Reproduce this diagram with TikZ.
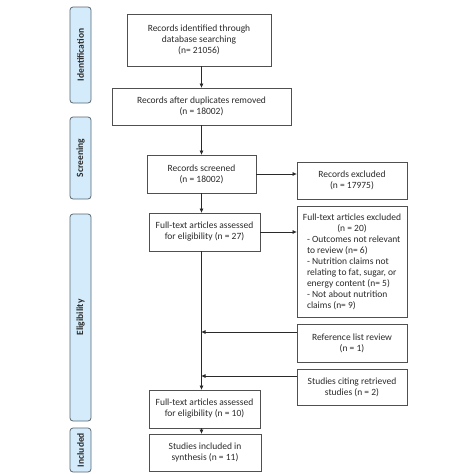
\documentclass[tikz,border=0pt]{standalone}
\usepackage{fontspec}
\setmainfont{Carlito}
\usetikzlibrary{arrows.meta,calc}
\definecolor{boxline}{HTML}{505050}
\definecolor{txt}{HTML}{2A2A2A}
\definecolor{phasefill}{HTML}{D3EBFA}
\definecolor{phaseline}{HTML}{5A6670}
\tikzset{
  box/.style={draw=boxline, line width=0.8pt, align=center, text=txt,
    font=\fontsize{9.5}{11}\selectfont, inner sep=0pt},
  phase/.style={draw=phaseline, fill=phasefill, line width=0.8pt, rounded corners=3pt,
    text=txt, font=\fontsize{9.5}{10}\selectfont\bfseries, inner sep=0pt},
  arr/.style={draw=txt, line width=0.7pt, -{Triangle[length=4pt,width=3.5pt]}},
}
\newcommand{\myCenLn}[1]{\makebox[100pt][c]{#1}}
\newcommand{\myLeftLn}[1]{\makebox[100pt][l]{\hspace*{5pt}#1}}
\begin{document}
\begin{tikzpicture}[x=1pt,y=-1pt]
\useasboundingbox (0,0) rectangle (474,474);
% phase bars
\node[phase, minimum width=96pt, minimum height=21pt, rotate=90] (pid) at (80.5,55) {Identification};
\node[phase, minimum width=82pt, minimum height=21pt, rotate=90] (psc) at (80.5,158) {Screening};
\node[phase, minimum width=207pt, minimum height=21pt, rotate=90] (pel) at (80.5,317.5) {Eligibility};
\node[phase, minimum width=44pt, minimum height=21pt, rotate=90] (pin) at (80.5,450) {Included};
% boxes
\node[box, minimum width=144pt, minimum height=52pt] (b1) at (199,40) {Records identified through\\database searching\\(n= 21056)};
\node[box, minimum width=179pt, minimum height=37pt] (b2) at (201.5,106.5) {Records after duplicates removed\\(n = 18002)};
\node[box, minimum width=109pt, minimum height=38pt] (b3) at (201.5,174) {Records screened\\(n = 18002)};
\node[box, minimum width=110pt, minimum height=37pt] (ex1) at (352,180.5) {Records excluded\\(n = 17975)};
\node[box, minimum width=111pt, minimum height=38pt] (ft1) at (204.5,232) {Full-text articles assessed\\for eligibility (n = 27)};
\node[box, minimum width=110pt, minimum height=111pt, align=left] (ex2) at (352,261.5) {%
\myCenLn{Full-text articles excluded}\\
\myCenLn{(n = 20)}\\
\myLeftLn{- Outcomes not relevant}\\
\myLeftLn{to review (n= 6)}\\
\myLeftLn{- Nutrition claims not}\\
\myLeftLn{relating to fat, sugar, or}\\
\myLeftLn{energy content (n= 5)}\\
\myLeftLn{- Not about nutrition}\\
\myLeftLn{claims (n= 9)}};
\node[box, minimum width=110pt, minimum height=38pt] (ref) at (352,343) {Reference list review\\(n = 1)};
\node[box, minimum width=110pt, minimum height=36pt] (cit) at (352,387) {Studies citing retrieved\\studies (n = 2)};
\node[box, minimum width=111pt, minimum height=38pt] (ft2) at (204.5,409) {Full-text articles assessed\\for eligibility (n = 10)};
\node[box, minimum width=112pt, minimum height=37pt] (inc) at (205,452.5) {Studies included in\\synthesis (n = 11)};
% connectors
\draw[arr] (b1.south -| b3.south) -- (b2.north -| b3.south);
\draw[arr] (b2.south -| b3.south) -- (b3.north);
\draw[arr] (b3.east) -- (ex1.west |- b3.east);
\draw[arr] (b3.south) -- (ft1.north -| b3.south);
\draw[arr] (ft1.east) -- (ex2.west |- ft1.east);
\draw[arr] (ft1.south -| b3.south) -- (ft2.north -| b3.south);
\coordinate (r1) at ($(ref.west)+(0,-11)$);
\coordinate (c1) at ($(cit.west)+(0,-11)$);
\draw[arr] (r1) -- (r1 -| b3.south);
\draw[arr] (c1) -- (c1 -| b3.south);
\draw[arr] (ft2.south -| b3.south) -- (inc.north -| b3.south);
\end{tikzpicture}
\end{document}
